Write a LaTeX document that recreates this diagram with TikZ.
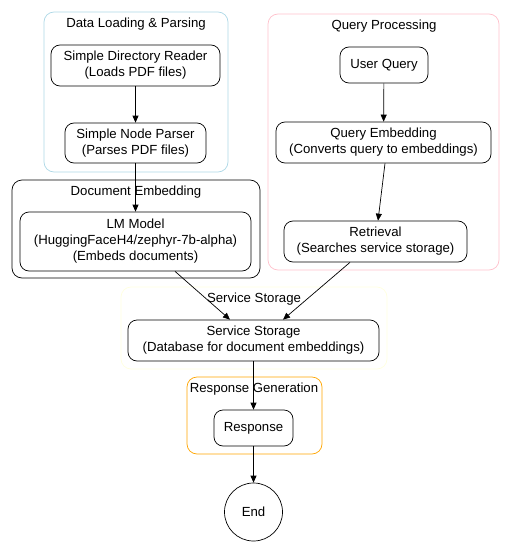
\documentclass[tikz,border=0pt]{standalone}
\usepackage{fontspec}
\setmainfont{Liberation Sans}
\usetikzlibrary{arrows.meta}
\begin{document}
\begin{tikzpicture}[x=1pt,y=-1pt,
  box/.style={draw,rounded corners=9pt,line width=0.7pt,align=center,font=\fontsize{13.2}{16}\selectfont,inner sep=0pt},
  clus/.style={rounded corners=10pt,line width=0.7pt},
  clab/.style={font=\fontsize{13.2}{15}\selectfont,inner sep=0pt},
  arr/.style={-{Triangle[length=7pt,width=6pt]},line width=0.7pt}]
\useasboundingbox (0,0) rectangle (512,543);
% clusters
\draw[clus,draw={rgb,255:red,173;green,216;blue,230}] (44,12) rectangle (228,172);
\node[clab] (cl1) at (136,24) {Data Loading \& Parsing};
\draw[clus,draw={rgb,255:red,255;green,192;blue,203}] (268,14) rectangle (499,270);
\node[clab] (cl2) at (384,26) {Query Processing};
\draw[clus,draw=black] (12,180) rectangle (260,278);
\node[clab] (cl3) at (136,192) {Document Embedding};
\draw[clus,draw={rgb,255:red,255;green,255;blue,224}] (121,287) rectangle (387,369);
\node[clab] (cl4) at (254,299) {Service Storage};
\draw[clus,draw={rgb,255:red,255;green,165;blue,0}] (187,377) rectangle (322,454);
\node[clab] (cl5) at (254,389) {Response Generation};
% nodes
\node[box,minimum width=169pt,minimum height=41pt] (sdr) at (135.5,65.5) {Simple Directory Reader\\(Loads PDF files)};
\node[box,minimum width=141pt,minimum height=40pt] (snp) at (135.5,143) {Simple Node Parser\\(Parses PDF files)};
\node[box,minimum width=231pt,minimum height=59pt] (lm) at (135.5,241.5) {LM Model\\(HuggingFaceH4/zephyr-7b-alpha)\\(Embeds documents)};
\node[box,minimum width=88pt,minimum height=36pt] (uq) at (384,65) {User Query};
\node[box,minimum width=215pt,minimum height=41pt] (qe) at (383.5,142.5) {Query Embedding\\(Converts query to embeddings)};
\node[box,minimum width=183pt,minimum height=41pt] (ret) at (375.5,241.5) {Retrieval\\(Searches service storage)};
\node[box,minimum width=251pt,minimum height=41pt] (ss) at (253.5,340.5) {Service Storage\\(Database for document embeddings)};
\node[box,minimum width=79pt,minimum height=36pt] (resp) at (253.5,428) {Response};
\node[draw,circle,line width=0.7pt,minimum size=58pt,inner sep=0pt,font=\fontsize{13.2}{15}\selectfont] (end) at (253.5,512) {End};
% edges
\draw[arr] (sdr) -- (snp);
\draw[arr] (snp) -- (lm);
\draw[arr] (lm.south -| 175,0) -- (ss.north -| 230,0);
\draw[arr] (ret.south -| 350,0) -- (ss.north -| 283,0);
\draw[arr] (uq) -- (qe);
\draw[arr] (qe.south -| 385,0) -- (ret.north -| 378,0);
\draw[arr] (ss) -- (resp);
\draw[arr] (resp) -- (end);
\end{tikzpicture}
\end{document}
